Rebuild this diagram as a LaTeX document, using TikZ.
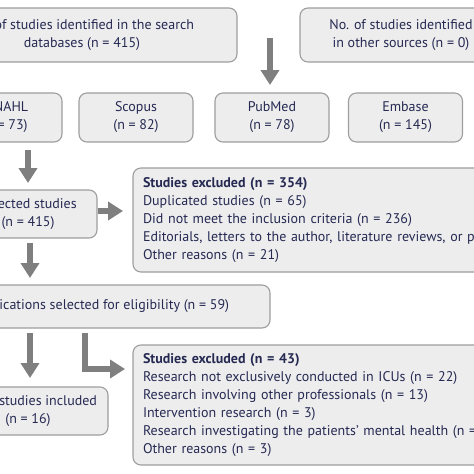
\documentclass[tikz,border=0pt]{standalone}
\usepackage{fontspec}
\setmainfont{PT Sans}
\usetikzlibrary{arrows.meta}
\definecolor{txt}{HTML}{262A52}
\definecolor{boxfill}{HTML}{EDEDEE}
\definecolor{boxline}{HTML}{9E9E9E}
\definecolor{arr}{HTML}{7F7F7F}
\tikzset{
  box/.style={draw=boxline, fill=boxfill, line width=1.1pt, rounded corners=8pt,
    align=center, inner sep=0pt, outer sep=0pt, text=txt,
    font=\fontsize{14}{18}\selectfont},
  exbox/.style={box, align=left, anchor=north west, text width=380pt, inner xsep=10pt},
  bigarrow/.style={draw=arr, line width=5.5pt, line join=miter,
    -{Triangle[width=18pt,length=15pt]}, color=arr}
}
\begin{document}
\begin{tikzpicture}[x=1pt,y=-1pt]
\useasboundingbox (0,0) rectangle (474,474);
\clip (0,0) rectangle (474,474);
\fill[white] (0,0) rectangle (474,474);
% top row
\node[box, minimum width=310pt, minimum height=54pt] (db) at (82,35)
  {No. of studies identified in the search\\databases (n = 415)};
\node[box, minimum width=202pt, minimum height=54pt] (other) at (401,35)
  {No. of studies identified\\in other sources (n = 0)};
% databases row
\node[box, minimum width=114pt, minimum height=49pt] (cinahl) at (5,117.5) {CINAHL\\(n = 73)};
\node[box, minimum width=114pt, minimum height=49pt] (scopus) at (136,117.5) {Scopus\\(n = 82)};
\node[box, minimum width=114pt, minimum height=49pt] (pub) at (272,117.5) {PubMed\\(n = 78)};
\node[box, minimum width=114pt, minimum height=49pt] (emb) at (405.5,117.5) {Embase\\(n = 145)};
% selected
\node[box, minimum width=138pt, minimum height=48pt] (sel) at (28,214) {Selected studies\\(n = 415)};
\node[exbox, minimum height=104pt] (ex1) at (133,168)
  {\textbf{Studies excluded (n = 354)}\\
   Duplicated studies (n = 65)\\
   Did not meet the inclusion criteria (n = 236)\\
   Editorials, letters to the author, literature reviews, or protocols\\
   Other reasons (n = 21)};
% publications
\node[box, minimum width=338pt, minimum height=43pt] (elig) at (101,306.5)
  {Publications selected for eligibility (n = 59)};
% included
\node[box, minimum width=160pt, minimum height=48pt] (incl) at (28,411)
  {No. of studies included\\(n = 16)};
\node[exbox, minimum height=120pt] (ex2) at (133,345)
  {\textbf{Studies excluded (n = 43)}\\
   Research not exclusively conducted in ICUs (n = 22)\\
   Research involving other professionals (n = 13)\\
   Intervention research (n = 3)\\
   Research investigating the patients' mental health (n = 2)\\
   Other reasons (n = 3)};
% arrow anchors
\coordinate (a1) at (270,38);
\coordinate (c28) at (28,0);
\coordinate (c30) at (30,0);
\coordinate (c85) at (85,0);
\coordinate (bend) at (85,369);
% arrows
\draw[bigarrow, shorten >=8pt] (a1) -- (a1 |- pub.north);
\draw[bigarrow, shorten <=8pt, shorten >=7pt] (cinahl.south -| c28) -- (sel.north -| c28);
\draw[bigarrow, shorten <=1pt, shorten >=10pt] (sel.east |- 0,211) -- (ex1.west |- 0,211);
\draw[bigarrow, shorten <=5pt, shorten >=7pt] (sel.south -| c30) -- (elig.north -| c30);
\draw[bigarrow, shorten <=5pt, shorten >=9pt] (elig.south -| c30) -- (incl.north -| c30);
\draw[bigarrow, shorten <=5pt, shorten >=8pt] (elig.south -| c85) -- (bend) -- (ex2.west |- bend);
\end{tikzpicture}
\end{document}
